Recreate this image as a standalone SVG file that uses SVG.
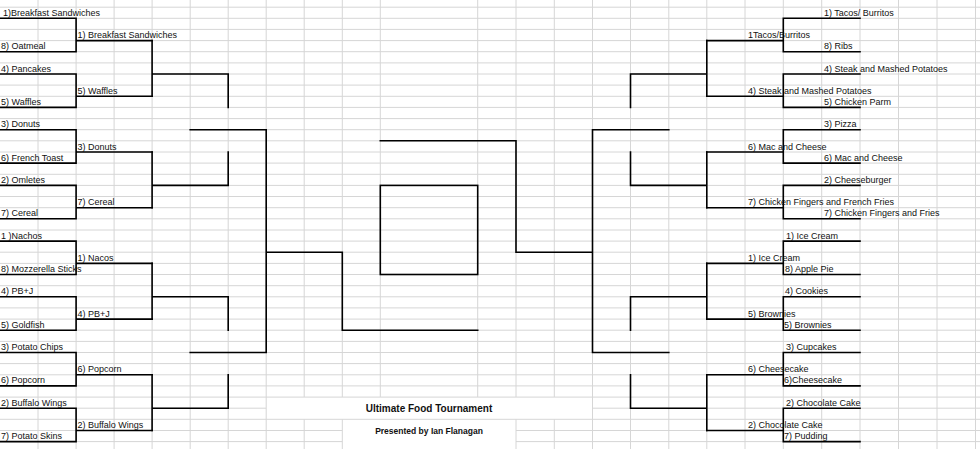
<svg xmlns="http://www.w3.org/2000/svg" width="980" height="449" viewBox="0 0 980 449">
<style>
.g{stroke:#d6d6d6;stroke-width:1;fill:none}
.b{stroke:#000;stroke-width:1.6;fill:none;stroke-linecap:square}
text{font-family:"Liberation Sans",Arial,sans-serif;font-size:9px;fill:#111}
.t{font-weight:bold;text-anchor:middle}
</style>
<rect width="980" height="449" fill="#fff"/>
<g id="grid">
<path class="g" d="M0 7.2H980M0 18.3H980M0 29.4H980M0 40.6H980M0 51.7H980M0 62.9H980M0 74H980M0 85.1H980M0 96.3H980M0 107.4H980M0 118.6H980M0 129.7H980M0 140.8H980M0 152H980M0 163.1H980M0 174.3H980M0 185.4H980M0 196.5H980M0 207.7H980M0 218.8H980M0 230H980M0 241.1H980M0 252.2H980M0 263.4H980M0 274.5H980M0 285.7H980M0 296.8H980M0 307.9H980M0 319.1H980M0 330.2H980M0 341.4H980M0 352.5H980M0 363.6H980M0 374.8H980M0 385.9H980M0 397.1H980M0 408.2H266.2M592.5 408.2H980M0 419.3H980M0 430.5H342.3M516 430.5H980M0 441.6H342.3M516 441.6H980"/>
<path class="g" d="M38 0V449M76.1 0V449M114.1 0V449M152.1 0V449M190.2 0V449M228.2 0V449M266.2 0V449M304.2 0V397M304.2 419.3V449M342.3 0V397M342.3 419.3V449M380.3 0V397M477.7 0V397M516 0V397M516 419.3V449M554.3 0V397M554.3 419.3V449M592.5 0V449M630.5 0V449M668.8 0V449M706.8 0V449M745 0V449M783.3 0V449M821.7 0V449M860 0V449M898.5 0V449M937 0V449M975.5 0V449"/>
</g>
<g id="connectors">
<path class="b" d="M0 18.3H76.1V51.7H0M76.1 40.6H152.1M0 74H76.1V107.4H0M76.1 96.3H152.1M0 129.7H76.1V163.1H0M76.1 152H152.1M0 185.4H76.1V218.8H0M76.1 207.7H152.1M0 241.1H76.1V274.5H0M76.1 263.4H152.1M0 296.8H76.1V330.2H0M76.1 319.1H152.1M0 352.5H76.1V385.9H0M76.1 374.8H152.1M0 408.2H76.1V441.6H0M76.1 430.5H152.1"/>
<path class="b" d="M152.1 40.6V96.3M152.1 74H228.2V107.4M152.1 152V207.7M152.1 185.4H228.2V152M152.1 263.4V319.1M152.1 296.8H228.2V330.2M152.1 374.8V430.5M152.1 408.2H228.2V374.8"/>
<path class="b" d="M190.2 129.7H266.2V352.5H190.2M266.2 252.2H342.3V330.2H477.7"/>
<path class="b" d="M380.3 140.8H516V252.2H592.5M668.8 129.7H592.5V352.5H668.8"/>
<path class="b" d="M706.8 40.6V96.3M706.8 74H630.5V107.4M706.8 152V207.7M706.8 185.4H630.5V152M706.8 263.4V319.1M706.8 296.8H630.5V330.2M706.8 374.8V430.5M706.8 408.2H630.5V374.8"/>
<path class="b" d="M860 18.3H783.3V51.7H860M783.3 40.6H706.8M860 74H783.3V107.4H860M783.3 96.3H706.8M860 129.7H783.3V163.1H860M783.3 152H706.8M860 185.4H783.3V218.8H860M783.3 207.7H706.8M860 241.1H783.3V274.5H860M783.3 263.4H706.8M860 296.8H783.3V330.2H860M783.3 319.1H706.8M860 352.5H783.3V385.9H860M783.3 374.8H706.8M860 408.2H783.3V441.6H860M783.3 430.5H706.8"/>
</g>
<g id="final-box"><rect class="b" x="380.3" y="185.4" width="97.4" height="89.1"/></g>
<g id="left-labels">
<text x="3" y="15.8">1)Breakfast Sandwiches</text>
<text x="1" y="49.2">8) Oatmeal</text>
<text x="1" y="71.5">4) Pancakes</text>
<text x="1" y="104.9">5) Waffles</text>
<text x="1" y="127.2">3) Donuts</text>
<text x="1" y="160.6">6) French Toast</text>
<text x="1" y="182.9">2) Omletes</text>
<text x="1" y="216.3">7) Cereal</text>
<text x="1" y="238.6">1 )Nachos</text>
<text x="1" y="272">8) Mozzerella Sticks</text>
<text x="1" y="294.3">4) PB+J</text>
<text x="1" y="327.7">5) Goldfish</text>
<text x="1" y="350">3) Potato Chips</text>
<text x="1" y="383.4">6) Popcorn</text>
<text x="1" y="405.7">2) Buffalo Wings</text>
<text x="1" y="439.1">7) Potato Skins</text>
<text x="77.5" y="38.1">1) Breakfast Sandwiches</text>
<text x="77.5" y="93.8">5) Waffles</text>
<text x="77.5" y="149.5">3) Donuts</text>
<text x="77.5" y="205.2">7) Cereal</text>
<text x="77.5" y="260.9">1) Nacos</text>
<text x="77.5" y="316.6">4) PB+J</text>
<text x="77.5" y="372.3">6) Popcorn</text>
<text x="77.5" y="428">2) Buffalo Wings</text>
</g>
<g id="right-labels">
<text x="824" y="15.8">1) Tacos/ Burritos</text>
<text x="824" y="49.2">8) Ribs</text>
<text x="824" y="71.5">4) Steak and Mashed Potatoes</text>
<text x="824" y="104.9">5) Chicken Parm</text>
<text x="824" y="127.2">3) Pizza</text>
<text x="824" y="160.6">6) Mac and Cheese</text>
<text x="824" y="182.9">2) Cheeseburger</text>
<text x="824" y="216.3">7) Chicken Fingers and Fries</text>
<text x="786" y="238.6">1) Ice Cream</text>
<text x="785" y="272">8) Apple Pie</text>
<text x="785" y="294.3">4) Cookies</text>
<text x="784" y="327.7">5) Brownies</text>
<text x="786" y="350">3) Cupcakes</text>
<text x="784" y="383.4">6)Cheesecake</text>
<text x="786" y="405.7">2) Chocolate Cake</text>
<text x="784" y="439.1">7) Pudding</text>
<text x="748" y="38.1">1Tacos/Burritos</text>
<text x="748" y="93.8">4) Steak and Mashed Potatoes</text>
<text x="748" y="149.5">6) Mac and Cheese</text>
<text x="748" y="205.2">7) Chicken Fingers and French Fries</text>
<text x="748" y="260.9">1) Ice Cream</text>
<text x="748" y="316.6">5) Brownies</text>
<text x="748" y="372.3">6) Cheesecake</text>
<text x="748" y="428">2) Chocolate Cake</text>
</g>
<g id="title">
<text class="t" x="429" y="412" style="font-size:10px">Ultimate Food Tournament</text>
<text class="t" x="429" y="433.5" style="font-size:8.5px">Presented by Ian Flanagan</text>
</g>
</svg>
